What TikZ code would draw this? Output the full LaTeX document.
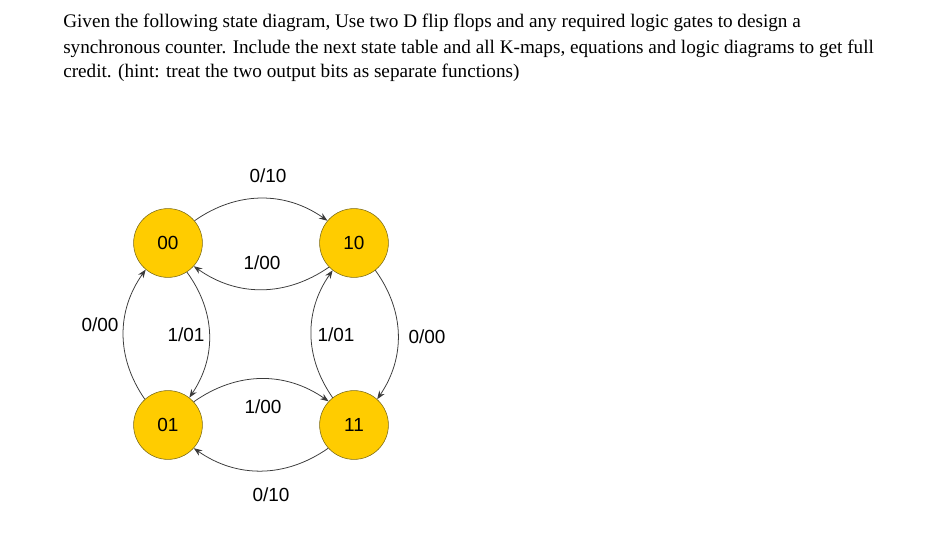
\documentclass[tikz,border=0pt]{standalone}
\usepackage{fontspec}
\usetikzlibrary{arrows.meta}
\setmainfont{Liberation Serif}
\newfontfamily\labelfont{Liberation Sans}
\definecolor{stategold}{HTML}{FFCC00}
\definecolor{stateedge}{HTML}{7A6A1A}
\definecolor{arcgray}{HTML}{3A3A3A}

\begin{document}
\begin{tikzpicture}[>={Stealth[length=6pt, width=4.5pt]},
	state/.style={circle, draw=stateedge, fill=stategold, thin, minimum size=1.72cm, inner sep=0pt, font=\labelfont\fontsize{13.5}{16}\selectfont},
	arc/.style={->, draw=arcgray, line width=0.55pt},
	lbl/.style={font=\labelfont\fontsize{13.5}{16}\selectfont, inner sep=0pt},
	txt/.style={anchor=base west, inner sep=0pt, font=\fontsize{13.65}{16}\selectfont}]
	\useasboundingbox (0, 0) rectangle (23.2, -13.375);

	\node[txt] (line1) at (1.575, -0.7) {Given the following state diagram, Use two D flip flops and any required logic gates to design a};
	\node[txt] (line2) at (1.575, -1.33) {synchronous counter. Include the next state table and all K-maps, equations and logic diagrams to get full};
	\node[txt] (line3) at (1.575, -1.93) {credit. (hint: treat the two output bits as separate functions)};

	\node[state] (s00) at (4.2, -6.075) {00};
	\node[state] (s10) at (8.85, -6.075) {10};
	\node[state] (s01) at (4.2, -10.625) {01};
	\node[state] (s11) at (8.85, -10.625) {11};

	\draw[arc] (s00.40) to[bend left=35] (s10.140);
	\draw[arc] (s10.224) to[bend left=35] (s00.318);
	\draw[arc] (s01.42) to[bend left=35] (s11.137);
	\draw[arc] (s11.222) to[bend left=35] (s01.318);
	\draw[arc] (s01.132) to[bend left=35] (s00.230);
	\draw[arc] (s00.303) to[bend left=35] (s01.52);
	\draw[arc] (s11.128) to[bend left=35] (s10.232);
	\draw[arc] (s10.308) to[bend left=35] (s11.48);

	\node[lbl] (l0010) at (6.7, -4.4) {0/10};
	\node[lbl] (l1000) at (6.55, -6.575) {1/00};
	\node[lbl] (l0100) at (2.5, -8.125) {0/00};
	\node[lbl] (l0001) at (4.65, -8.375) {1/01};
	\node[lbl] (l1110) at (8.4, -8.375) {1/01};
	\node[lbl] (l1011) at (10.675, -8.425) {0/00};
	\node[lbl] (l0111) at (6.575, -10.175) {1/00};
	\node[lbl] (l1101) at (6.775, -12.375) {0/10};
\end{tikzpicture}
\end{document}
